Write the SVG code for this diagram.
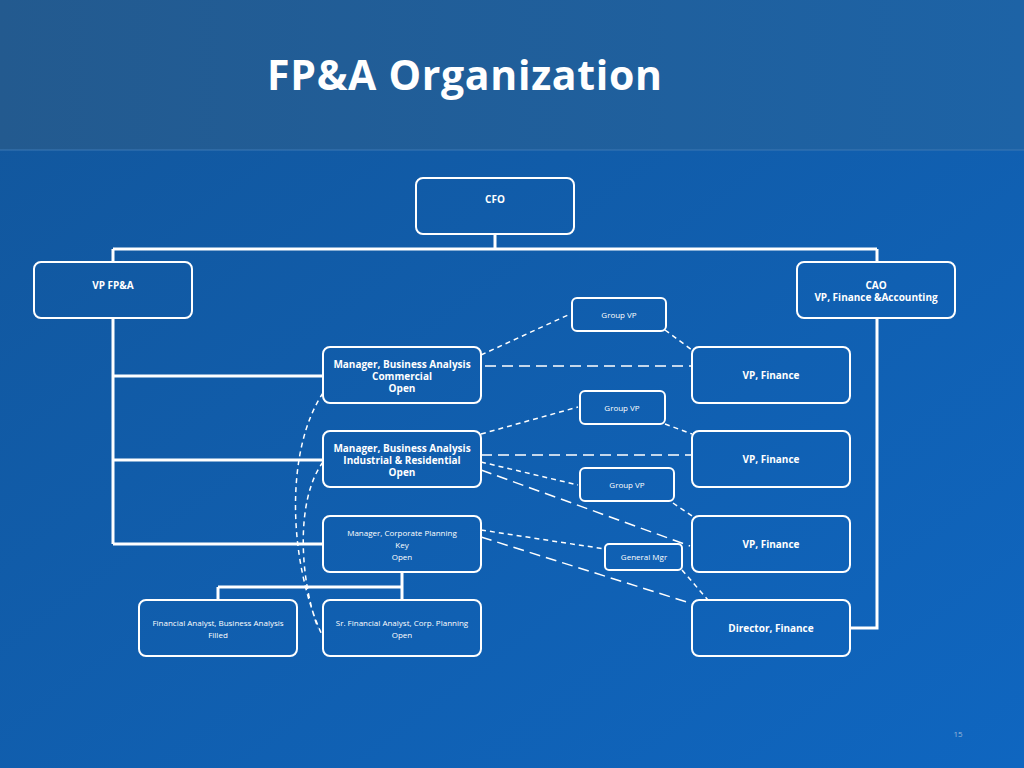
<svg xmlns="http://www.w3.org/2000/svg" width="1024" height="768" viewBox="0 0 1024 768">
<defs>
<linearGradient id="bg" x1="0" y1="0" x2="1" y2="1"><stop offset="0" stop-color="#12569b"/><stop offset="1" stop-color="#0f66c0"/></linearGradient>
<linearGradient id="hd" x1="0" y1="0" x2="1" y2="0"><stop offset="0" stop-color="#235a8f"/><stop offset="1" stop-color="#1d63a6"/></linearGradient>
<style>
.b{fill:none;stroke:#fff;stroke-width:2}
.t{fill:#fff;font-family:"Open Sans","DejaVu Sans",sans-serif;font-size:10px;font-weight:bold;text-anchor:middle}
.s{fill:#fff;font-family:"Open Sans","Liberation Sans",sans-serif;font-size:8px;text-anchor:middle}
.l{fill:none;stroke:#fff;stroke-width:3}
.d{fill:none;stroke:#fff;stroke-width:1.5;stroke-dasharray:5 4}
.ld{fill:none;stroke:#fff;stroke-width:1.5;stroke-dasharray:11 6}
</style>
</defs>
<rect width="1024" height="768" fill="url(#bg)"/>
<rect width="1024" height="150" fill="url(#hd)"/>
<line x1="0" y1="150" x2="1024" y2="150" stroke="#3c78b4" stroke-width="1"/>
<text x="267" y="90" fill="#fff" font-family="'Open Sans','DejaVu Sans',sans-serif" font-size="41" font-weight="bold" textLength="395">FP&amp;A Organization</text>
<text x="958" y="737" fill="#9bb8d8" font-family="'Open Sans',sans-serif" font-size="8" text-anchor="middle">15</text>
<g id="connectors">
<path class="l" d="M495 234V249M113 249H877M113 249V262M877 249V262M113 318V544M877 318V628H850M113 376H323M113 460H323M113 544H323M402 572V587M218 587H402M218 587V600M402 587V600"/>
<path class="d" d="M481 355L568 315M665 330L692 350M481 434L578 407M665 424L692 434M481 462L578 485M673 503L692 516M481 530L605 549M682 570L708 600"/>
<path class="ld" d="M485 366H692M481 455H692M481 470L690 546M481 537L690 603"/>
<path class="d" d="M323 393C285 450 288 560 322 635M323 462C295 500 300 580 318 628"/>
</g>
<g id="cfo"><rect class="b" x="416" y="178" width="158" height="56" rx="7"/><text class="t" x="495" y="203">CFO</text></g>
<g id="vpfpa"><rect class="b" x="34" y="262" width="158" height="56" rx="7"/><text class="t" x="113" y="289">VP FP&amp;A</text></g>
<g id="cao"><rect class="b" x="797" y="262" width="158" height="56" rx="7"/><text class="t" x="876" y="289">CAO</text><text class="t" x="876" y="301">VP, Finance &amp;Accounting</text></g>
<g id="mgr1"><rect class="b" x="323" y="347" width="158" height="56" rx="7"/><text class="t" x="402" y="368">Manager, Business Analysis</text><text class="t" x="402" y="380">Commercial</text><text class="t" x="402" y="392">Open</text></g>
<g id="mgr2"><rect class="b" x="323" y="431" width="158" height="56" rx="7"/><text class="t" x="402" y="452">Manager, Business Analysis</text><text class="t" x="402" y="464">Industrial &amp; Residential</text><text class="t" x="402" y="476">Open</text></g>
<g id="mgr3"><rect class="b" x="323" y="516" width="158" height="56" rx="7"/><text class="s" x="402" y="536">Manager, Corporate Planning</text><text class="s" x="402" y="548">Key</text><text class="s" x="402" y="560">Open</text></g>
<g id="fa"><rect class="b" x="139" y="600" width="158" height="56" rx="7"/><text class="s" x="218" y="626">Financial Analyst, Business Analysis</text><text class="s" x="218" y="638">Filled</text></g>
<g id="sfa"><rect class="b" x="323" y="600" width="158" height="56" rx="7"/><text class="s" x="402" y="626">Sr. Financial Analyst, Corp. Planning</text><text class="s" x="402" y="638">Open</text></g>
<g id="vpf1"><rect class="b" x="692" y="347" width="158" height="56" rx="7"/><text class="t" x="771" y="379">VP, Finance</text></g>
<g id="vpf2"><rect class="b" x="692" y="431" width="158" height="56" rx="7"/><text class="t" x="771" y="463">VP, Finance</text></g>
<g id="vpf3"><rect class="b" x="692" y="516" width="158" height="56" rx="7"/><text class="t" x="771" y="548">VP, Finance</text></g>
<g id="dir"><rect class="b" x="692" y="600" width="158" height="56" rx="7"/><text class="t" x="771" y="632">Director, Finance</text></g>
<g id="gvp1"><rect class="b" x="572" y="298" width="94" height="33" rx="5"/><text class="s" x="619" y="318">Group VP</text></g>
<g id="gvp2"><rect class="b" x="580" y="391" width="85" height="33" rx="5"/><text class="s" x="622" y="411">Group VP</text></g>
<g id="gvp3"><rect class="b" x="580" y="468" width="94" height="33" rx="5"/><text class="s" x="627" y="488">Group VP</text></g>
<g id="gm"><rect class="b" x="605" y="544" width="77" height="26" rx="4"/><text class="s" x="644" y="560">General Mgr</text></g>
</svg>
